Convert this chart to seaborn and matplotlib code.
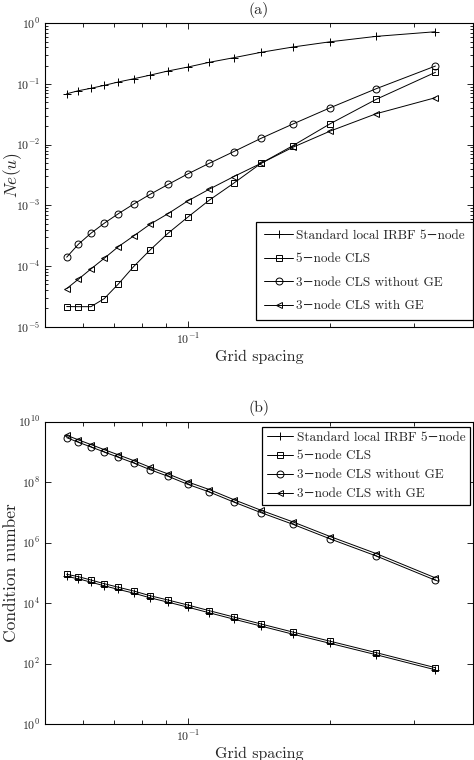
import numpy as np
import pandas as pd
import matplotlib
matplotlib.use("Agg")
import matplotlib.pyplot as plt
import matplotlib.ticker as mticker
import seaborn as sns

# ---------------- data ----------------
grid_spacing = [0.05556, 0.05882, 0.0625, 0.06667, 0.07143, 0.07692, 0.08333, 0.09091,
                0.1, 0.1111, 0.125, 0.1429, 0.1667, 0.2, 0.25, 0.3333]

labels = ["Standard local IRBF 5\u2212node", "5\u2212node CLS",
          "3\u2212node CLS without GE", "3\u2212node CLS with GE"]

# (a) Ne(u)
err_standard = [0.069, 0.0775, 0.085, 0.095, 0.108, 0.122, 0.14, 0.164,
                0.19, 0.228, 0.271, 0.333, 0.407, 0.497, 0.61, 0.727]
err_cls5 = [2.15e-5, 2.14e-5, 2.14e-5, 2.9e-5, 5.07e-5, 9.8e-5, 1.84e-4, 3.47e-4,
            6.37e-4, 1.22e-3, 2.31e-3, 4.94e-3, 9.63e-3, 2.22e-2, 5.6e-2, 0.156]
err_cls3_noge = [1.40e-4, 2.29e-4, 3.47e-4, 5.07e-4, 7.3e-4, 1.05e-3, 1.52e-3, 2.21e-3,
                 3.29e-3, 4.94e-3, 7.67e-3, 1.275e-2, 2.19e-2, 4.07e-2, 8.37e-2, 0.198]
err_cls3_ge = [4.25e-5, 6.07e-5, 8.95e-5, 1.34e-4, 2.09e-4, 3.13e-4, 4.89e-4, 7.3e-4,
               1.18e-3, 1.85e-3, 2.97e-3, 4.94e-3, 9.06e-3, 1.68e-2, 3.24e-2, 5.95e-2]

# (b) condition number
cond_standard = [7.6e4, 6.34e4, 4.92e4, 3.72e4, 2.83e4, 2.13e4, 1.49e4, 1.07e4,
                 7.35e3, 4.76e3, 2.95e3, 1.73e3, 935, 463, 195, 61.9]
cond_cls5 = [8.95e4, 7.46e4, 5.79e4, 4.38e4, 3.33e4, 2.51e4, 1.75e4, 1.26e4,
             8.65e3, 5.6e3, 3.47e3, 2.03e3, 1.10e3, 545, 229, 72.8]
cond_cls3_noge = [2.96e9, 2.08e9, 1.46e9, 9.95e8, 6.64e8, 4.31e8, 2.58e8, 1.56e8,
                  8.49e7, 4.73e7, 2.21e7, 9.77e6, 4.04e6, 1.32e6, 3.61e5, 5.68e4]
cond_cls3_ge = [3.55e9, 2.5e9, 1.75e9, 1.19e9, 7.97e8, 5.17e8, 3.1e8, 1.87e8,
                1.02e8, 5.68e7, 2.65e7, 1.17e7, 4.85e6, 1.58e6, 4.33e5, 6.8e4]

markers = ["+", "s", "o", "<"]
marker_sizes = [6, 4.2, 5, 5]

# ---------------- style ----------------
sns.set_style("ticks")
plt.rcParams["font.family"] = ["cmr10", "DejaVu Serif"]
plt.rcParams["mathtext.fontset"] = "custom"
plt.rcParams["mathtext.rm"] = "Liberation Sans"
plt.rcParams["mathtext.it"] = "Liberation Sans:italic"
plt.rcParams["axes.unicode_minus"] = True

fig = plt.figure(figsize=(4.74, 7.60), dpi=100)
ax_a = fig.add_axes([0.0949, 0.5701, 0.903, 0.3992])
ax_b = fig.add_axes([0.0949, 0.04737, 0.903, 0.3978])


def draw(ax, series):
    for lab, vals, mk, ms in zip(labels, series, markers, marker_sizes):
        df = pd.DataFrame({"h": grid_spacing, "v": vals})
        sns.lineplot(data=df, x="h", y="v", ax=ax, color="black", linewidth=0.7,
                     marker=mk, markersize=ms, markerfacecolor="none",
                     markeredgecolor="black", markeredgewidth=0.7,
                     errorbar=None, label=lab, legend=False, sort=True)
    ax.set_xscale("log")
    ax.set_yscale("log")
    ax.set_xlim(0.05, 0.4)
    ax.xaxis.set_major_locator(mticker.FixedLocator([0.1]))
    ax.xaxis.set_minor_locator(mticker.FixedLocator([0.06, 0.07, 0.08, 0.09, 0.2, 0.3]))
    ax.xaxis.set_minor_formatter(mticker.NullFormatter())
    ax.tick_params(which="both", direction="in", top=True, right=True,
                   labelsize=8.5, width=0.6, color="black")
    ax.tick_params(which="major", length=4)
    ax.tick_params(which="minor", length=3)
    for s in ax.spines.values():
        s.set_linewidth(0.8)
        s.set_color("black")
    ax.set_xlabel("Grid spacing", fontsize=11.5, labelpad=2)


legend_kw = dict(fontsize=9.5, frameon=True, fancybox=False, edgecolor="black",
                 framealpha=1, handletextpad=0.25, borderaxespad=0)

draw(ax_a, [err_standard, err_cls5, err_cls3_noge, err_cls3_ge])
ax_a.set_ylim(1e-5, 1e0)
ax_a.yaxis.set_major_locator(mticker.LogLocator(base=10, numticks=10))
ax_a.yaxis.set_minor_locator(mticker.LogLocator(base=10, subs=np.arange(2, 10), numticks=20))
ax_a.yaxis.set_minor_formatter(mticker.NullFormatter())
ax_a.tick_params(axis="y", which="minor", length=2)
ax_a.set_ylabel("$Ne(u)$", fontsize=12.5, math_fontfamily="cm")
ax_a.yaxis.set_label_coords(-0.05, 0.5)
ax_a.set_title("(a)", fontsize=11.5, pad=7)
leg = ax_a.legend(loc="lower right", bbox_to_anchor=(1.0, 0.022),
                  handlelength=2.2, labelspacing=0.85, borderpad=0.6, **legend_kw)
leg.get_frame().set_linewidth(0.9)

draw(ax_b, [cond_standard, cond_cls5, cond_cls3_noge, cond_cls3_ge])
ax_b.set_ylim(1e0, 1e10)
ax_b.yaxis.set_major_locator(mticker.FixedLocator([1e0, 1e2, 1e4, 1e6, 1e8, 1e10]))
ax_b.yaxis.set_major_formatter(mticker.LogFormatterSciNotation())
ax_b.yaxis.set_minor_locator(mticker.NullLocator())
ax_b.set_ylabel("Condition number", fontsize=12.5)
ax_b.yaxis.set_label_coords(-0.06, 0.5)
ax_b.set_title("(b)", fontsize=11.5, pad=7)
leg = ax_b.legend(loc="upper right", bbox_to_anchor=(0.993, 0.983),
                  handlelength=2.0, labelspacing=0.5, borderpad=0.35, **legend_kw)
leg.get_frame().set_linewidth(0.9)

fig.savefig("out.png", dpi=100)
